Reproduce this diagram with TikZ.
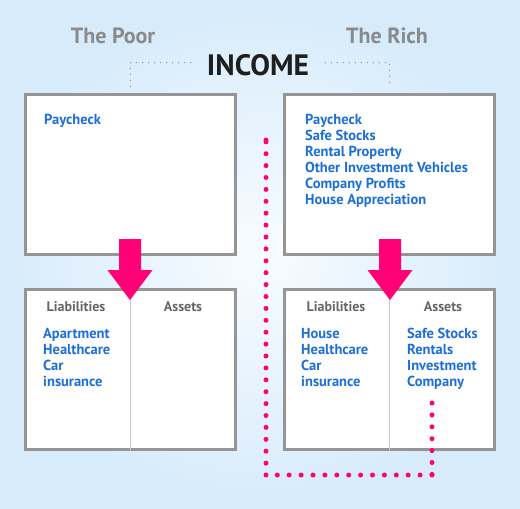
\documentclass[tikz,border=0pt]{standalone}
\usepackage{fontspec}
\setmainfont{PT Sans}
\usetikzlibrary{positioning}

\definecolor{bgblue}{HTML}{D7EBFB}
\definecolor{bglight}{HTML}{F8FCFF}
\definecolor{framegray}{HTML}{959595}
\definecolor{listblue}{HTML}{1C6FD8}
\definecolor{titlegray}{HTML}{8A8A8A}
\definecolor{headgray}{HTML}{666666}
\definecolor{cashpink}{HTML}{FF0077}

\tikzset{
  boxframe/.style={draw=framegray, line width=3pt, fill=white,
    minimum width=210pt, minimum height=160pt, inner sep=0pt},
  divider/.style={draw=black!22, line width=1pt},
  titletext/.style={anchor=base, inner sep=0pt, text=titlegray,
    font=\fontsize{22}{22}\selectfont\bfseries},
  incometext/.style={anchor=base, inner xsep=16pt, inner ysep=0pt,
    text=black!88, font=\fontsize{29.5}{29.5}\selectfont\bfseries},
  headtext/.style={anchor=base, inner sep=0pt, text=headgray,
    font=\fontsize{14}{14}\selectfont\bfseries},
  listtext/.style={anchor=base west, inner sep=0pt, text=listblue,
    font=\fontsize{14.5}{14.5}\selectfont\bfseries},
  graydots/.style={draw=framegray, line width=1.4pt, line cap=round,
    dash pattern=on 0pt off 6pt},
  pinkdots/.style={draw=cashpink, line width=5pt, line cap=round,
    dash pattern=on 0pt off 11.9pt},
  pinkarrow/.style={fill=cashpink}
}

% block arrow from income box into the balance sheet
\newcommand{\cashflow}[1]{%
  \fill[pinkarrow] (#1-11,239) -- (#1+11,239) -- (#1+11,270) -- (#1+22.5,270)
    -- (#1,300) -- (#1-22.5,270) -- (#1-11,270) -- cycle;}

\begin{document}
\begin{tikzpicture}[x=1pt,y=-1pt]
  % background
  \fill[bgblue] (0,0) rectangle (520,509);
  \shade[inner color=bglight, outer color=bgblue] (0,0) rectangle (520,509);
  \useasboundingbox (0,0) rectangle (520,509);

  % headings
  \node[titletext] (poor) at (113,43) {The Poor};
  \node[titletext] (rich) at (387,43) {The Rich};
  \node[incometext] (income) at (258,75) {INCOME};

  % income boxes
  \node[boxframe] (poorin) at (130.5,174.5) {};
  \node[boxframe] (richin) at (389.5,174.5) {};

  % balance sheets
  \node[boxframe] (poorbs) at (130.5,369.5) {};
  \node[boxframe] (richbs) at (389.5,369.5) {};
  \draw[divider] (poorbs.north) -- (poorbs.south);
  \draw[divider] (richbs.north) -- (richbs.south);

  % dotted links to income
  \draw[graydots, shorten >=5pt] ([yshift=2pt]income.west) -| (poorin.north);
  \draw[graydots, shorten >=5pt] ([yshift=2pt]income.east) -| (richin.north);

  % income lists
  \node[listtext] (poor1) at (44,124) {Paycheck};
  \foreach \t [count=\i] in {Paycheck, Safe Stocks, Rental Property,
      Other Investment Vehicles, Company Profits, House Appreciation}{
    \node[listtext] (rich\i) at (305,108+16*\i) {\t};
  }

  % column heads
  \node[headtext] (poorliab) at (76,311) {Liabilities};
  \node[headtext] (poorasset) at (183,311) {Assets};
  \node[headtext] (richliab) at (336,311) {Liabilities};
  \node[headtext] (richasset) at (443,311) {Assets};

  % liabilities and assets
  \foreach \t [count=\i] in {Apartment, Healthcare, Car, insurance}{
    \node[listtext] (pl\i) at (43,322+16*\i) {\t};
  }
  \foreach \t [count=\i] in {House, Healthcare, Car, insurance}{
    \node[listtext] (rl\i) at (301,322+16*\i) {\t};
  }
  \foreach \t [count=\i] in {Safe Stocks, Rentals, Investment, Company}{
    \node[listtext] (ra\i) at (407,322+16*\i) {\t};
  }

  % cash flow arrows
  \cashflow{130}
  \cashflow{390}

  % assets feeding back into income
  \coordinate (loop0) at (432,403);
  \coordinate (loop1) at (432,475);
  \coordinate (loop2) at (266,475);
  \coordinate (loop3) at (266,140);
  \coordinate (loop4) at (276,140);
  \draw[pinkdots] (loop0) -- (loop1);
  \draw[pinkdots] (loop1) -- (loop2);
  \draw[pinkdots] (loop2) -- (loop3);
  \draw[pinkdots] (loop3) -- (loop4);
\end{tikzpicture}
\end{document}
